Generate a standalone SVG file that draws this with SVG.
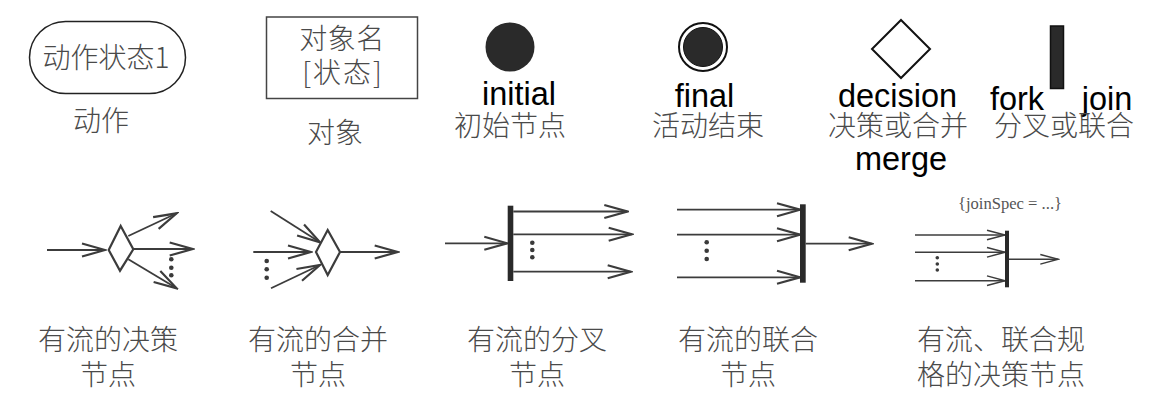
<svg xmlns="http://www.w3.org/2000/svg" width="1150" height="401" viewBox="0 0 1150 401">
<style>
.cjk{font-family:"Noto Sans CJK SC","Liberation Serif",sans-serif;font-size:28px;fill:#4a4a4a;text-anchor:middle;font-weight:300}
.en{font-family:"Liberation Sans",Arial,sans-serif;font-size:32.500px;fill:#000;text-anchor:middle}
.spec{font-family:"Liberation Serif",serif;font-size:16px;fill:#555;text-anchor:middle}
.flow{fill:none;stroke:#3c3c3c;stroke-width:1.8;marker-end:url(#open)}
.flows{fill:none;stroke:#3c3c3c;stroke-width:1.4;marker-end:url(#opens)}
.dec{fill:#fff;stroke:#3c3c3c;stroke-width:2.2}
.bar{fill:#2a2a2a}
.dot{fill:#3a3a3a}
</style>
<defs>
<marker id="open" markerUnits="userSpaceOnUse" viewBox="-25 -9 27 18" refX="0" refY="0" markerWidth="27" markerHeight="18" orient="auto"><path d="M-23,-6.500L0,0L-23,6.500" fill="none" stroke="#3c3c3c" stroke-width="2.200"/></marker>
<marker id="opens" markerUnits="userSpaceOnUse" viewBox="-20 -7 22 14" refX="0" refY="0" markerWidth="22" markerHeight="14" orient="auto"><path d="M-18,-4.800L0,0L-18,4.800" fill="none" stroke="#3c3c3c" stroke-width="1.500"/></marker>
</defs>

<g id="action">
<rect x="29.500" y="21.500" width="156" height="72" rx="36" ry="36" fill="#fff" stroke="#222" stroke-width="1.500"/>
<text class="cjk" x="106" y="68">动作状态1</text>
<text class="cjk" x="101" y="131">动作</text>
</g>
<g id="object">
<rect x="266.500" y="17" width="151" height="81.500" fill="#fff" stroke="#444" stroke-width="1.500"/>
<text class="cjk" x="342" y="49" style="letter-spacing:0.500px">对象名</text>
<text class="cjk" x="343" y="83" style="letter-spacing:2px">[状态]</text>
<text class="cjk" x="335" y="143">对象</text>
</g>
<g id="initial">
<circle cx="510" cy="47" r="24.500" fill="#2a2a2a"/>
<text class="en" x="519" y="105">initial</text>
<text class="cjk" x="510" y="136">初始节点</text>
</g>
<g id="final">
<circle cx="703" cy="47" r="24" fill="#fff" stroke="#111" stroke-width="2"/>
<circle cx="703" cy="47" r="19.500" fill="#2a2a2a" stroke="#111" stroke-width="1"/>
<text class="en" x="704.500" y="107">final</text>
<text class="cjk" x="708" y="136">活动结束</text>
</g>
<g id="decision">
<polygon points="901,20 930,49 901,78 872,49" fill="#fff" stroke="#111" stroke-width="2"/>
<text class="en" x="897.500" y="107">decision</text>
<text class="cjk" x="898" y="136">决策或合并</text>
<text class="en" x="901" y="170">merge</text>
</g>
<g id="fork-join">
<rect x="1050.500" y="26" width="13" height="62.500" fill="#2a2a2a" stroke="#111" stroke-width="1.500"/>
<text class="en" x="1017" y="110">fork</text>
<text class="en" x="1107" y="110">join</text>
<text class="cjk" x="1064" y="136">分叉或联合</text>
</g>

<g id="connectors">
<path class="flow" d="M47,250H105"/>
<path class="flow" d="M128.300,236L176.700,213.300"/>
<path class="flow" d="M133.300,249H192.700"/>
<path class="flow" d="M128.300,259.300L176.700,288.300"/>
<path class="flow" d="M270.700,211L320,242.300"/>
<path class="flow" d="M253.300,252H311"/>
<path class="flow" d="M271,288.300L320,265"/>
<path class="flow" d="M340,252H397.700"/>
<path class="flow" d="M445,243.300H507.300"/>
<path class="flow" d="M513.300,211.500H627.300"/>
<path class="flow" d="M513.300,234.300H631.700"/>
<path class="flow" d="M513.300,271.700H630.700"/>
<path class="flow" d="M677,209.700H800"/>
<path class="flow" d="M677,234.700H800"/>
<path class="flow" d="M677,277.300H800"/>
<path class="flow" d="M805.700,243.700H871.700"/>
<path class="flows" d="M915,235H1005"/>
<path class="flows" d="M915,252.300H1005"/>
<path class="flows" d="M915,280.700H1005"/>
<path class="flows" d="M1009,259.300H1058.300"/>
</g>

<g id="decision-flow">
<polygon class="dec" points="120.700,226 133.300,249.300 120,270.700 108.700,250"/>
<circle class="dot" cx="171.300" cy="259.300" r="2.300"/><circle class="dot" cx="171.300" cy="267.700" r="2.300"/><circle class="dot" cx="171.300" cy="275.300" r="2.300"/>
<text class="cjk" x="108" y="350">有流的决策</text>
<text class="cjk" x="108" y="385">节点</text>
</g>
<g id="merge-flow">
<polygon class="dec" points="327.700,230 340,252 327.700,275 316,252"/>
<circle class="dot" cx="266.700" cy="261" r="2.300"/><circle class="dot" cx="266.700" cy="269.300" r="2.300"/><circle class="dot" cx="266.700" cy="277.700" r="2.300"/>
<text class="cjk" x="318" y="350">有流的合并</text>
<text class="cjk" x="318" y="385">节点</text>
</g>
<g id="fork-flow">
<rect class="bar" x="507.700" y="205.700" width="5.600" height="75.300"/>
<circle class="dot" cx="532.300" cy="242.700" r="2.300"/><circle class="dot" cx="532.300" cy="250" r="2.300"/><circle class="dot" cx="532.300" cy="257.300" r="2.300"/>
<text class="cjk" x="537" y="350">有流的分叉</text>
<text class="cjk" x="537" y="385">节点</text>
</g>
<g id="join-flow">
<rect class="bar" x="800" y="204.300" width="5.700" height="78.400"/>
<circle class="dot" cx="706.700" cy="242.300" r="2.300"/><circle class="dot" cx="706.700" cy="250.700" r="2.300"/><circle class="dot" cx="706.700" cy="259" r="2.300"/>
<text class="cjk" x="748" y="350">有流的联合</text>
<text class="cjk" x="748" y="385">节点</text>
</g>
<g id="join-spec-flow">
<rect class="bar" x="1005" y="230.700" width="4" height="56.600"/>
<circle class="dot" cx="937.300" cy="257.700" r="1.800"/><circle class="dot" cx="937.300" cy="264" r="1.800"/><circle class="dot" cx="937.300" cy="270" r="1.800"/>
<text class="spec" x="1010" y="209" textLength="104" lengthAdjust="spacingAndGlyphs">{joinSpec = ...}</text>
<text class="cjk" x="1001" y="350">有流、联合规</text>
<text class="cjk" x="1001" y="385">格的决策节点</text>
</g>
</svg>
